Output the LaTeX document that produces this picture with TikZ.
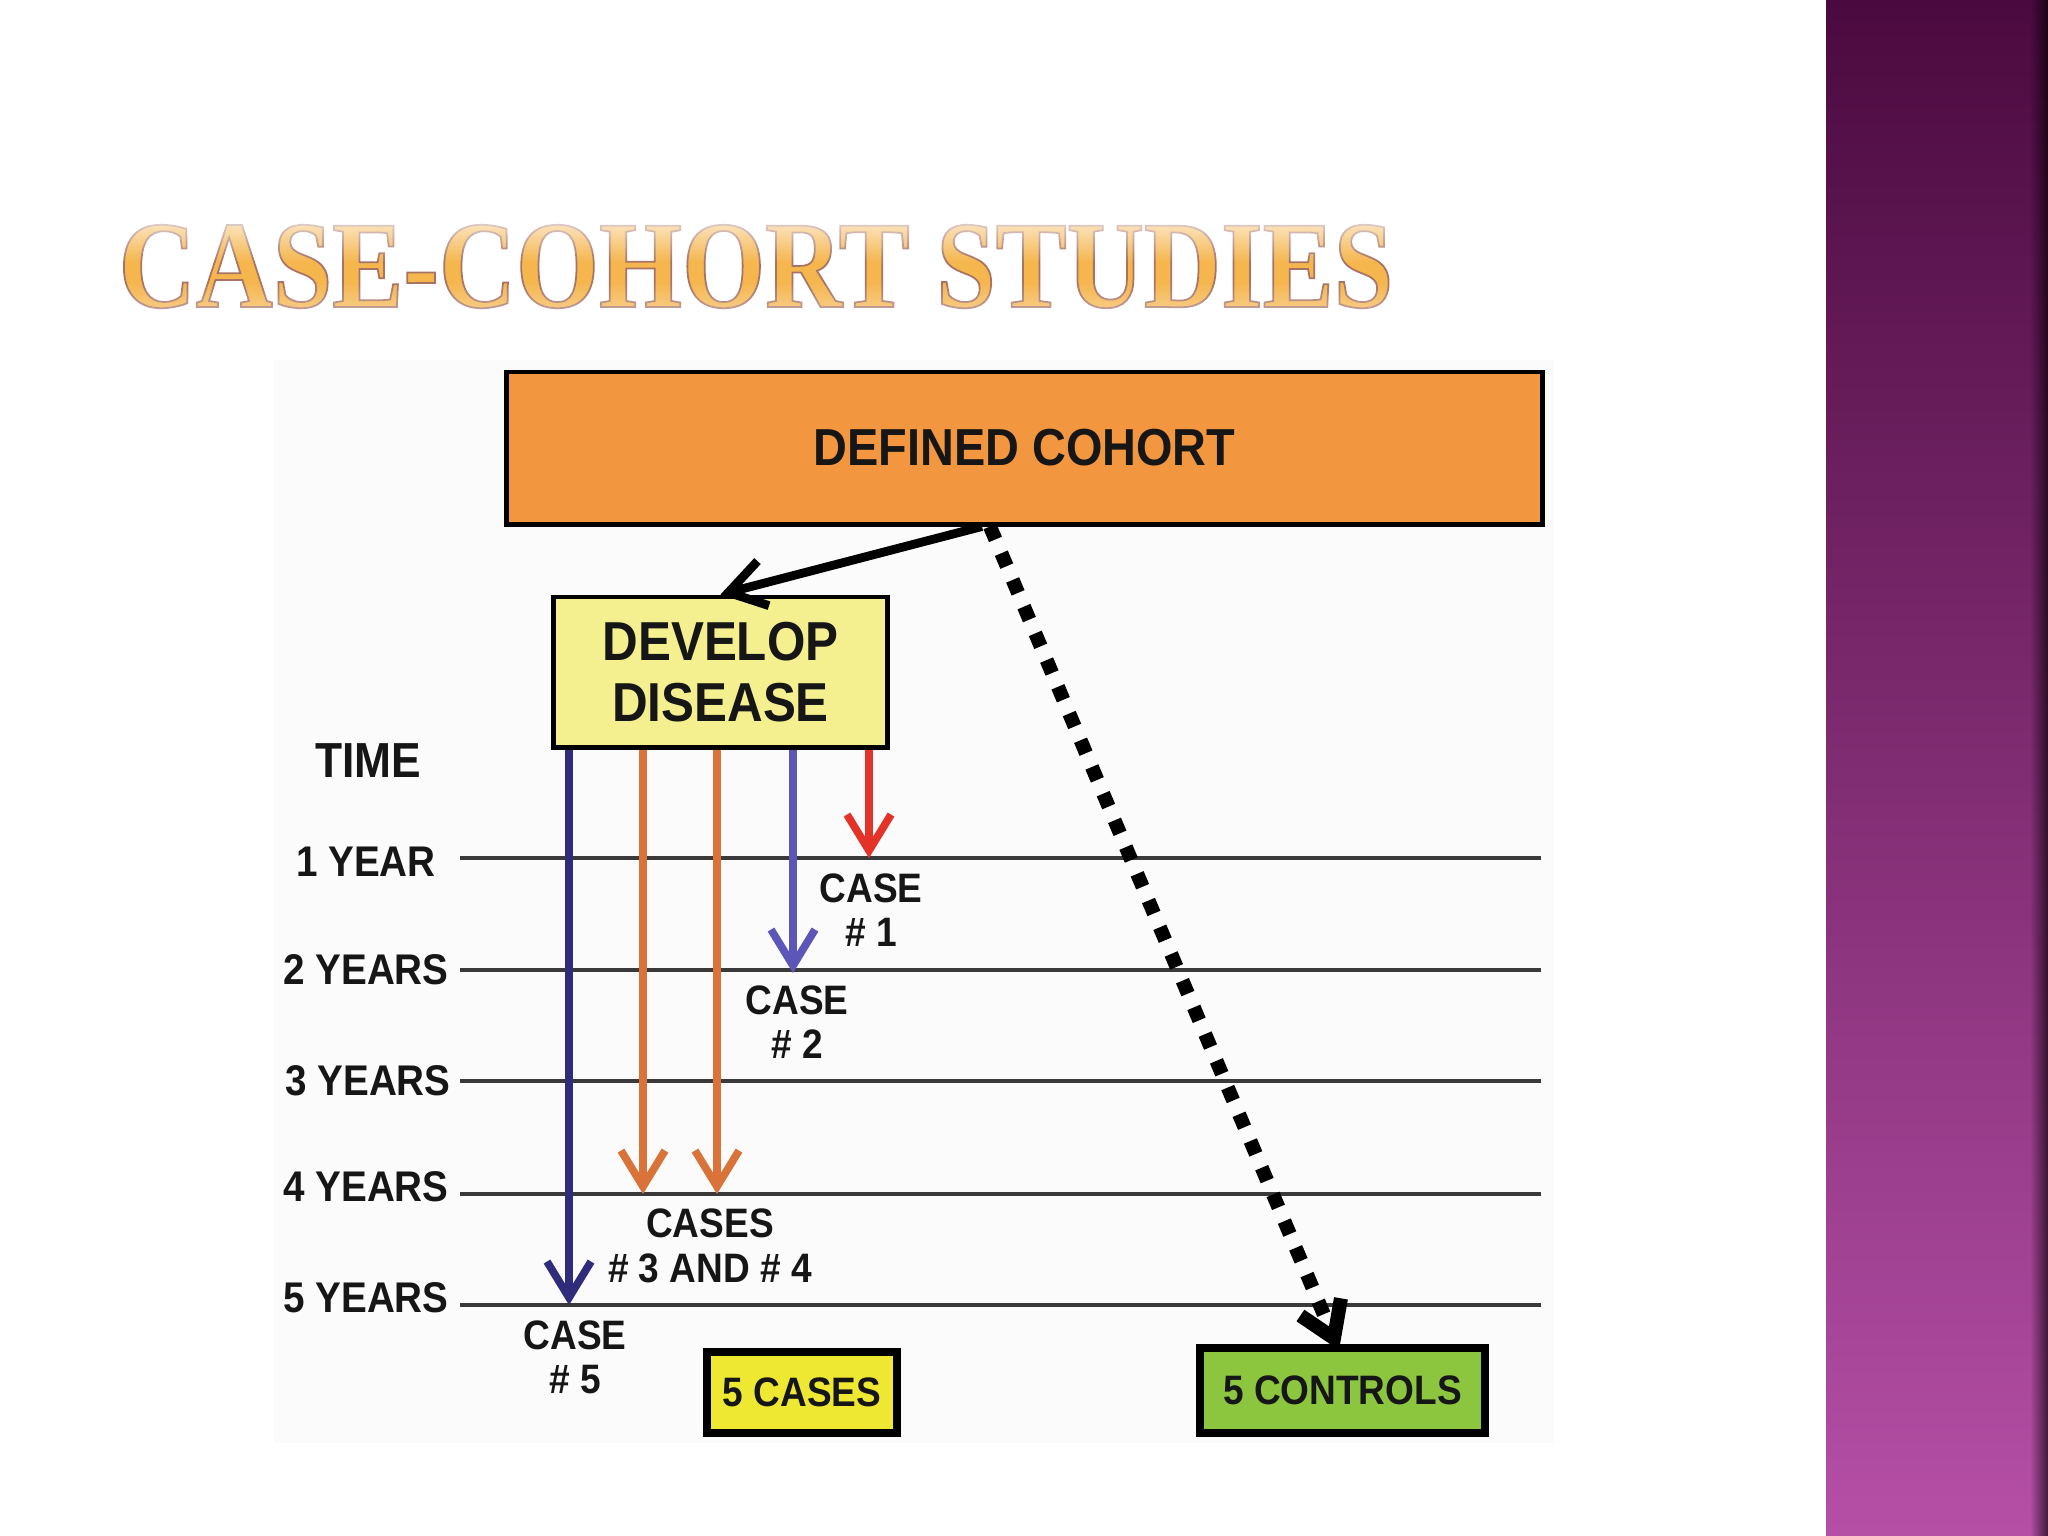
\documentclass[tikz,border=0pt]{standalone}
\usepackage{fontspec}
\setmainfont{Liberation Sans}
\newfontfamily\lbl{Liberation Sans}[FakeStretch=0.9]
\newfontfamily\ttl{Liberation Serif}[FakeStretch=0.86]
\usetikzlibrary{arrows.meta,fadings}
\definecolor{cohortorange}{HTML}{F39640}
\definecolor{devyellow}{HTML}{F4F08F}
\definecolor{caseyellow}{HTML}{EEE833}
\definecolor{ctrlgreen}{HTML}{8CC63F}
\definecolor{navyarr}{HTML}{2F2C7C}
\definecolor{orangearr}{HTML}{D9733A}
\definecolor{bluearr}{HTML}{5C56B8}
\definecolor{redarr}{HTML}{E53228}
\definecolor{linegray}{HTML}{3A3A3A}
\definecolor{txtblack}{HTML}{161616}
\definecolor{titlefill}{HTML}{F5B64E}
\definecolor{barTop}{HTML}{4B0A3F}
\definecolor{barMid}{HTML}{7E3174}
\definecolor{barBot}{HTML}{B54FA6}
\definecolor{diagbg}{HTML}{FBFBFB}
\tikzfading[name=titletopfade, top color=transparent!35, bottom color=transparent!100]
\tikzfading[name=titlebotfade, top color=transparent!100, bottom color=transparent!70]
\tikzfading[name=edgefade, left color=transparent!100, right color=transparent!35]
\begin{document}
\begin{tikzpicture}[x=0.01cm,y=-0.01cm,
  box/.style={draw=black, line width=1.4pt, inner sep=0pt, align=center, text=txtblack},
  arr/.style={line width=2.2pt, -{Straight Barb[length=0.36cm,width=0.44cm]}},
  blackarr/.style={line width=2.5pt, black, -{Straight Barb[length=0.36cm,width=0.46cm]}},
  dotarr/.style={line width=0.14cm, black, dash pattern=on 0.14cm off 0.15cm, -{Straight Barb[length=0.34cm,width=0.44cm]}},
  yearline/.style={draw=linegray, line width=0.9pt},
  yearlbl/.style={font={\lbl\bfseries\fontsize{12.2pt}{14pt}\selectfont}, inner sep=0pt, text=txtblack},
  caselbl/.style={font={\lbl\bfseries\fontsize{11.7pt}{12.6pt}\selectfont}, align=center, inner sep=0pt, text=txtblack},
  bigbox/.style={font={\lbl\bfseries\fontsize{14.8pt}{18pt}\selectfont}},
  devbox/.style={font={\lbl\bfseries\fontsize{15.6pt}{17.2pt}\selectfont}},
  smallbox/.style={font={\lbl\bfseries\fontsize{11.7pt}{14pt}\selectfont}, line width=2.2pt}
]
\useasboundingbox (0,0) rectangle (2048,1536);
\fill[white] (0,0) rectangle (2048,1536);
% purple side bar
\shade[top color=barTop, middle color=barMid, bottom color=barBot] (1826,0) rectangle (2048,1536);
\fill[black, path fading=edgefade] (2030,0) rectangle (2048,1536);
% diagram background
\fill[diagbg] (274,360) rectangle (1554,1443);

% boxes
\node[box, bigbox, fill=cohortorange, minimum width=10.35cm, minimum height=1.52cm] (cohort) at (1024.5,448) {DEFINED COHORT};
\node[box, devbox, fill=devyellow, minimum width=3.33cm, minimum height=1.5cm] (develop) at (720.5,672) {DEVELOP\\DISEASE};
\node[box, smallbox, fill=caseyellow, minimum width=1.9cm, minimum height=0.81cm] (cases) at (802,1392.5) {5 CASES};
\node[box, smallbox, fill=ctrlgreen, minimum width=2.85cm, minimum height=0.85cm] (controls) at (1342.5,1390.5) {5 CONTROLS};

% year lines
\coordinate (l1a) at (460,858);  \coordinate (l1b) at (1541,858);
\coordinate (l2a) at (460,970);  \coordinate (l2b) at (1541,970);
\coordinate (l3a) at (460,1081); \coordinate (l3b) at (1541,1081);
\coordinate (l4a) at (460,1194); \coordinate (l4b) at (1541,1194);
\coordinate (l5a) at (460,1305); \coordinate (l5b) at (1541,1305);
\draw[yearline] (l1a) -- (l1b);
\draw[yearline] (l2a) -- (l2b);
\draw[yearline] (l3a) -- (l3b);
\draw[yearline] (l4a) -- (l4b);
\draw[yearline] (l5a) -- (l5b);

% labels on the left
\node[yearlbl, font={\lbl\bfseries\fontsize{14pt}{16pt}\selectfont}] (time) at (368,761) {TIME};
\node[yearlbl] (y1) at (366,862) {1 YEAR};
\node[yearlbl] (y2) at (366,970) {2 YEARS};
\node[yearlbl] (y3) at (368,1081) {3 YEARS};
\node[yearlbl] (y4) at (366,1187) {4 YEARS};
\node[yearlbl] (y5) at (366,1298) {5 YEARS};

% arrow tips
\coordinate (t5) at (569,1305);
\coordinate (t4) at (643,1194);
\coordinate (t3) at (717,1194);
\coordinate (t2) at (793,973);
\coordinate (t1) at (869,858);
\draw[arr, navyarr] (develop.south -| t5) -- (t5);
\draw[arr, orangearr] (develop.south -| t4) -- (t4);
\draw[arr, orangearr] (develop.south -| t3) -- (t3);
\draw[arr, bluearr] (develop.south -| t2) -- (t2);
\draw[arr, redarr] (develop.south -| t1) -- (t1);

% case labels
\node[caselbl] (c1) at (871,910) {CASE\\\# 1};
\node[caselbl] (c2) at (797,1022) {CASE\\\# 2};
\node[caselbl] (c34) at (710,1246) {CASES\\\# 3 AND \# 4};
\node[caselbl] (c5) at (575,1357) {CASE\\\# 5};

% cohort arrows
\draw[blackarr] ([xshift=-0.425cm]cohort.south) -- (develop.north);
\draw[dotarr] ([xshift=-0.345cm]cohort.south) -- ([xshift=-0.035cm,yshift=-0.06cm]controls.north);

% title
\node[anchor=base, inner sep=0pt, font={\ttl\bfseries\fontsize{35.3pt}{36pt}\selectfont}, text=titlefill] (title) at (756,307)
  {\special{pdf:literal direct 0.66 0.45 0.40 RG 0.5 w 2 Tr}CASE-COHORT STUDIES\special{pdf:literal direct 0 Tr}};
\fill[white, path fading=titletopfade] (110,222) rectangle (1402,262);
\fill[white, path fading=titlebotfade] (110,282) rectangle (1402,309);
\end{tikzpicture}
\end{document}
